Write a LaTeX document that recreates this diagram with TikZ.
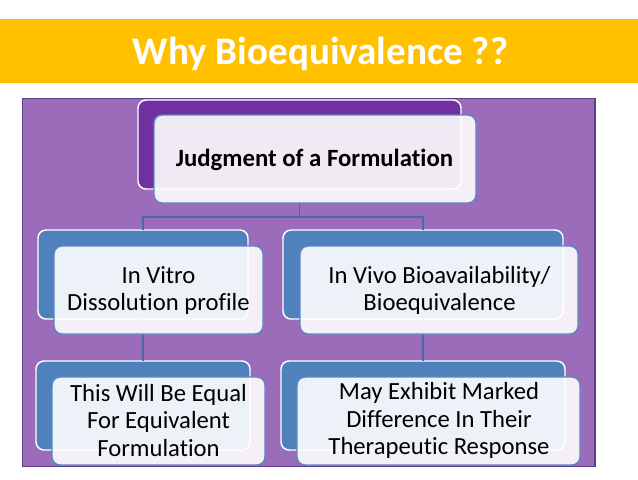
\documentclass[tikz,border=0pt]{standalone}
\usepackage{fontspec}
\setmainfont{Carlito}[Ligatures=NoCommon]
\definecolor{banner}{HTML}{FFC000}
\definecolor{panel}{HTML}{9A6CB9}
\definecolor{panelline}{HTML}{5F3F8C}
\definecolor{darkpurple}{HTML}{7030A0}
\definecolor{midblue}{HTML}{4F81BD}
\definecolor{linkblue}{HTML}{4A68A8}
\definecolor{frontline}{HTML}{5F86C0}
\tikzset{
  px/.style={x=.75pt,y=-.75pt},
  boxat/.style n args={4}{minimum width=(#3-#1)*.75pt,minimum height=(#4-#2)*.75pt,at={({(#1+#3)/2},{(#2+#4)/2})}},
  backbox/.style={draw=white,line width=1.1pt,rounded corners=6pt,inner sep=0pt,outer sep=0pt,fill=midblue},
  frontbox/.style={draw=frontline,line width=1.1pt,rounded corners=6pt,inner sep=0pt,outer sep=0pt,
    fill=white,fill opacity=.9},
  boxtext/.style={inner sep=0pt,align=center,text=black,font=\fontsize{18.5}{20.6}\selectfont},
  link/.style={draw=linkblue,line width=1pt},
}
\begin{document}
\begin{tikzpicture}[px]
\useasboundingbox (0,0) rectangle (638,479);
\fill[white] (0,0) rectangle (638,479);
\node[fill=banner,inner sep=0pt,minimum width=478.5pt,minimum height=64pt,boxat={0}{19}{638}{83}] (bar) {};
\node[text=white,font=\fontsize{29.3}{32}\selectfont\bfseries,inner sep=0pt] (title) at (320.5,53.5) {Why Bioequivalence ??};
\node[draw=panelline,fill=panel,line width=.8pt,inner sep=0pt,boxat={22.5}{98.5}{595}{466.5}] (panel) {};
% back boxes
\node[backbox,fill=darkpurple,boxat={138}{100}{461}{189}] (topback) {};
\node[backbox,boxat={38}{230}{248}{319}] (lback) {};
\node[backbox,boxat={283}{230}{563}{319}] (rback) {};
\node[backbox,boxat={36}{361}{250}{450}] (llback) {};
\node[backbox,boxat={281}{361}{565}{450}] (rrback) {};
% connectors
\coordinate (busy) at (299.5,217);
\draw[link] (topback.south) -- (busy) -| (lback.north);
\draw[link] (busy) -| (rback.north);
\draw[link] (lback.south) -- (llback.north);
\draw[link] (rback.south) -- (rrback.north);
% front boxes
\node[frontbox,boxat={154}{115}{476}{203}] (top) {};
\node[frontbox,boxat={54}{246}{263}{334}] (l) {};
\node[frontbox,boxat={300}{246}{578}{334}] (r) {};
\node[frontbox,boxat={52}{377}{265}{465}] (ll) {};
\node[frontbox,boxat={297}{377}{580}{465}] (rr) {};
% labels
\node[boxtext,font=\fontsize{18.6}{20.6}\selectfont\bfseries] (toplabel) at (314.5,160) {Judgment of a Formulation};
\node[boxtext] (llabel) at (158.5,290.5) {In Vitro\\Dissolution profile};
\node[boxtext] (rlabel) at (439.5,290.5) {In Vivo Bioavailability/\\Bioequivalence};
\node[boxtext] (lllabel) at (158.5,420.5) {This Will Be Equal\\For Equivalent\\Formulation};
\node[boxtext] (rrlabel) at (439,420.5) {May Exhibit Marked\\Difference In Their\\Therapeutic Response};
\end{tikzpicture}
\end{document}
